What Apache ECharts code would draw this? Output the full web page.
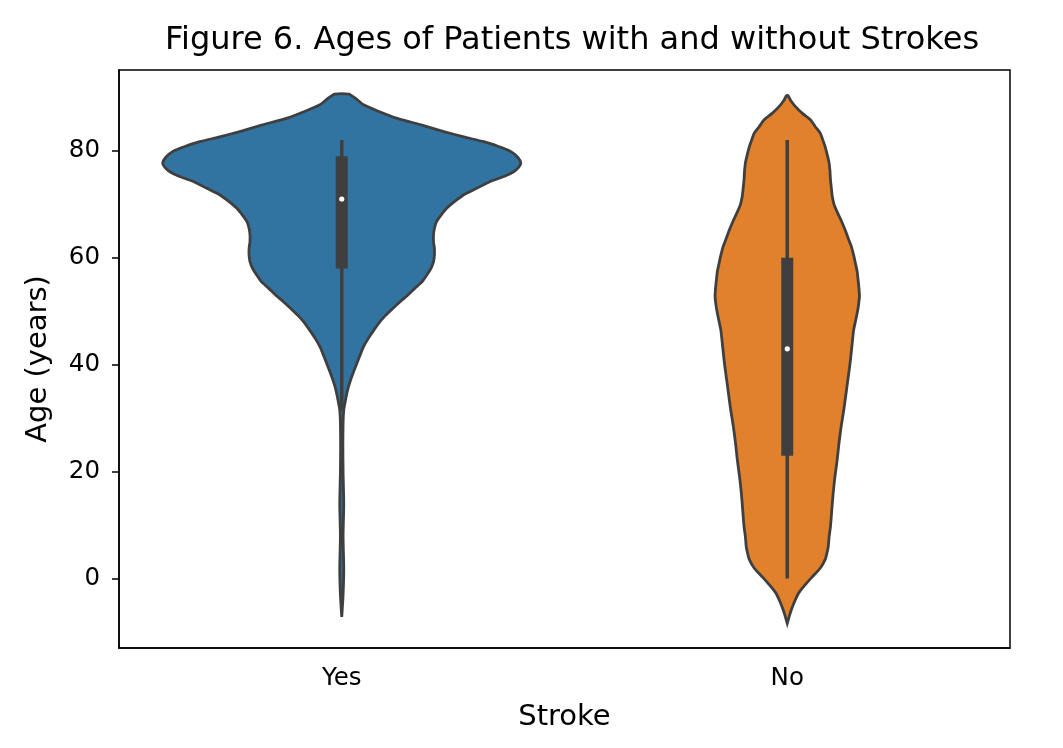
<!DOCTYPE html>
<html>
<head>
<meta charset="utf-8">
<script src="https://cdn.jsdelivr.net/npm/echarts@6/dist/echarts.min.js"></script>
<style>
  html, body { margin: 0; padding: 0; background: #fff; }
  #chart { width: 1063px; height: 748px; }
</style>
</head>
<body>
<div id="chart"></div>
<script>
// categories on the x axis
const strokeGroups = ['Yes', 'No'];
const yTicks = [0, 20, 40, 60, 80];

// violin outline for "Yes": age -> half width (fraction of category band)
const yesAges = [90.6, 89.8, 88.6, 87.3, 86.1, 84.8, 83.6, 82.6, 81.7, 80.8, 79.9, 78.8, 77.7, 76.9, 76.1, 75.2, 74.3, 73.0, 71.8, 70.5, 69.3, 68.0, 66.8, 65.5, 64.3, 63.0, 61.8, 60.5, 59.3, 58.0, 56.8, 55.5, 54.3, 53.0, 51.8, 50.5, 49.3, 48.0, 46.5, 45.0, 43.4, 41.8, 40.3, 38.8, 37.2, 35.6, 34.1, 32.8, 31.6, 29.2, 25.0, 20.0, 14.0, 8.0, 2.0, -3.0, -7.1];
const yesWidth = [0.016, 0.031, 0.049, 0.085, 0.123, 0.180, 0.229, 0.274, 0.319, 0.352, 0.379, 0.395, 0.402, 0.397, 0.386, 0.364, 0.334, 0.303, 0.274, 0.253, 0.236, 0.223, 0.213, 0.208, 0.206, 0.206, 0.208, 0.208, 0.206, 0.200, 0.191, 0.180, 0.164, 0.148, 0.131, 0.114, 0.099, 0.085, 0.072, 0.060, 0.049, 0.041, 0.034, 0.027, 0.020, 0.014, 0.010, 0.007, 0.0045, 0.003, 0.0025, 0.003, 0.0045, 0.003, 0.0045, 0.003, 0];

// violin outline for "No"
const noAges = [90.3, 89.5, 88.3, 87.0, 85.8, 84.5, 83.3, 82.0, 80.8, 79.2, 77.7, 76.1, 74.6, 73.0, 71.5, 70.0, 68.4, 66.8, 65.2, 63.6, 62.1, 60.5, 59.0, 57.4, 55.9, 54.3, 52.8, 51.2, 49.7, 48.1, 46.5, 43.4, 40.3, 37.2, 34.7, 31.6, 28.5, 25.3, 22.2, 19.1, 16.0, 12.9, 9.8, 7.9, 6.0, 4.8, 3.6, 2.0, 0.4, -1.2, -2.7, -4.3, -5.8, -7.0, -8.3];
const noWidth = [0.002, 0.007, 0.018, 0.034, 0.052, 0.063, 0.074, 0.080, 0.085, 0.090, 0.094, 0.096, 0.097, 0.099, 0.101, 0.105, 0.113, 0.122, 0.130, 0.137, 0.144, 0.149, 0.153, 0.157, 0.159, 0.161, 0.162, 0.160, 0.157, 0.153, 0.149, 0.145, 0.141, 0.136, 0.132, 0.127, 0.121, 0.116, 0.112, 0.107, 0.103, 0.100, 0.097, 0.094, 0.092, 0.089, 0.085, 0.074, 0.056, 0.039, 0.025, 0.016, 0.009, 0.0045, 0];

// inner box: whisker low, q1, median, q3, whisker high
const yesBox = [31.5, 58, 71, 79, 82];
const noBox = [0.1, 23, 43, 60, 82];

const fills = ['#3274a1', '#e1812c'];
const edge = '#3f3f3f';

const violins = [
  { ages: yesAges, width: yesWidth, box: yesBox },
  { ages: noAges, width: noWidth, box: noBox }
];

const chart = echarts.init(document.getElementById('chart'));

function renderViolin(params, api) {
  const idx = api.value(0);
  const v = violins[idx];
  const band = api.size([1, 0])[0];
  const right = [], left = [];
  v.ages.forEach((a, i) => {
    const c = api.coord([idx, a]);
    right.push([c[0] + v.width[i] * band, c[1]]);
    left.push([c[0] - v.width[i] * band, c[1]]);
  });
  const pts = right.concat(left.reverse());
  const lo = api.coord([idx, v.box[0]]);
  const q1 = api.coord([idx, v.box[1]]);
  const med = api.coord([idx, v.box[2]]);
  const q3 = api.coord([idx, v.box[3]]);
  const hi = api.coord([idx, v.box[4]]);
  return {
    type: 'group',
    children: [
      {
        type: 'polygon',
        shape: { points: pts, smooth: 0.2 },
        style: { fill: fills[idx], stroke: edge, lineWidth: 2.8 }
      },
      {
        type: 'line',
        shape: { x1: lo[0], y1: lo[1], x2: hi[0], y2: hi[1] },
        style: { stroke: edge, lineWidth: 3.5 }
      },
      {
        type: 'rect',
        shape: { x: q3[0] - 6, y: q3[1], width: 12, height: q1[1] - q3[1] },
        style: { fill: edge }
      },
      {
        type: 'circle',
        shape: { cx: med[0], cy: med[1], r: 2.6 },
        style: { fill: '#fff' }
      }
    ]
  };
}

chart.setOption({
  animation: false,
  textStyle: { fontFamily: 'DejaVu Sans' },
  title: {
    text: 'Figure 6. Ages of Patients with and without Strokes',
    left: 567,
    textAlign: 'center',
    top: 20,
    textStyle: { fontSize: 32, fontWeight: 'normal', color: '#000', fontFamily: 'DejaVu Sans' }
  },
  grid: {
    left: 119, right: 53, top: 70, bottom: 100,
    show: true, borderColor: '#000', borderWidth: 1.5, backgroundColor: '#fff'
  },
  xAxis: {
    type: 'category',
    data: strokeGroups,
    boundaryGap: true,
    name: 'Stroke',
    nameLocation: 'middle',
    nameGap: 55,
    nameTextStyle: { fontSize: 29, color: '#000' },
    axisLine: { onZero: false, lineStyle: { color: '#000', width: 1.5 } },
    axisTick: { alignWithLabel: true, length: 7, lineStyle: { color: '#000', width: 1.5 } },
    axisLabel: { fontSize: 24.5, color: '#000', margin: 18 },
    splitLine: { show: false }
  },
  yAxis: {
    type: 'value',
    min: -12.9,
    max: 95.1,
    name: 'Age (years)',
    nameLocation: 'middle',
    nameGap: 66,
    nameTextStyle: { fontSize: 29, color: '#000' },
    axisLine: { show: true, onZero: false, lineStyle: { color: '#000', width: 1.5 } },
    axisTick: { show: true, length: 7, customValues: yTicks, lineStyle: { color: '#000', width: 1.5 } },
    axisLabel: { fontSize: 24.5, color: '#000', margin: 19, customValues: yTicks },
    splitLine: { show: false }
  },
  series: [{
    type: 'custom',
    renderItem: renderViolin,
    data: strokeGroups.map((g, i) => [i]),
    encode: { x: 0 },
    clip: true
  }]
});
</script>
</body>
</html>
